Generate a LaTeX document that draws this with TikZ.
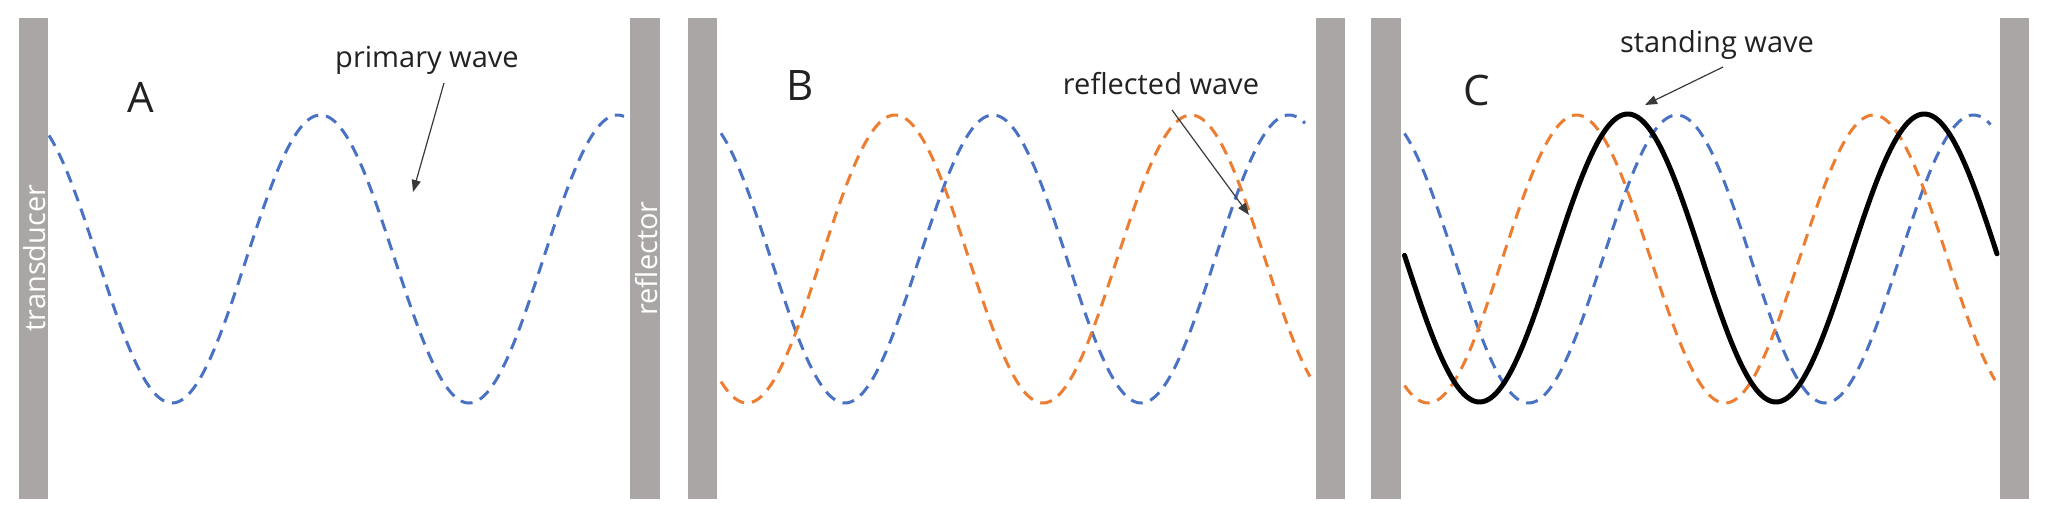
\documentclass[tikz,border=0pt]{standalone}
\usepackage{fontspec}
\setmainfont{Open Sans}
\usetikzlibrary{arrows.meta}
\definecolor{bargray}{HTML}{A9A6A5}
\definecolor{wblue}{HTML}{4A72C4}
\definecolor{worange}{HTML}{ED7D31}
\definecolor{txt}{HTML}{222222}
\definecolor{ptrgray}{HTML}{3A3A3A}
\tikzset{
  bar/.style={fill=bargray, draw=none, minimum width=14.75pt, minimum height=240.4pt, inner sep=0pt},
  bartext/.style={text=white, rotate=90, font=\fontsize{14.5}{17}\selectfont, inner sep=0pt},
  lbl/.style={text=txt, font=\fontsize{14.5}{17}\selectfont, inner sep=0pt, anchor=base},
  letter/.style={text=txt, font=\fontsize{21}{25}\selectfont, inner sep=0pt, anchor=base},
  bluewave/.style={wblue, line width=1.5pt, dash pattern=on 6pt off 4pt},
  orangewave/.style={worange, line width=1.5pt, dash pattern=on 6pt off 4pt},
  standwave/.style={black, line width=2.5pt, line cap=round},
  ptr/.style={ptrgray, line width=0.6pt, -{Triangle[length=6pt,width=4.5pt]}}
}
\begin{document}
\begin{tikzpicture}[x=0.5pt, y=-0.5pt]
\useasboundingbox (0,0) rectangle (2048,509);
\fill[white] (0,0) rectangle (2048,509);

% bars
\node[bar] (barAL) at (33.5,258.7) {};
\node[bar] (barAR) at (645,258.7) {};
\node[bar] (barBL) at (702.3,258.7) {};
\node[bar] (barBR) at (1330.5,258.7) {};
\node[bar] (barCL) at (1386,258.7) {};
\node[bar] (barCR) at (2014.5,258.7) {};
\node[bartext] (transducer) at (34.5,258) {transducer};
\node[bartext] (reflector) at (646.5,258.5) {reflector};

% panel A
\draw[bluewave] plot[domain=49:624, samples=220] (\x, {259+144*cos((\x-172)*1.212121)});
\node[letter] (labA) at (141,112) {A};
\node[lbl] (primary) at (427,67) {primary wave};
\coordinate (pS) at (444,83);
\coordinate (pT) at (413,192);
\draw[ptr] (pS) -- (pT);

% panel B
\draw[bluewave] plot[domain=721:1305, samples=220] (\x, {259+144*cos((\x-845)*1.216216)});
\draw[orangewave] plot[domain=721:1310, samples=220] (\x, {259+144*cos((\x-747)*1.216216)});
\node[letter] (labB) at (800,100) {B};
\node[lbl] (reflected) at (1161,94) {reflected wave};
\coordinate (rS) at (1172,110);
\coordinate (rT) at (1249,215);
\draw[ptr] (rS) -- (rT);

% panel C
\draw[bluewave] plot[domain=1404.5:1990.6, samples=220] (\x, {259+144*cos((\x-1528.6)*1.214165)});
\draw[orangewave] plot[domain=1404.5:1995, samples=220] (\x, {259+144*cos((\x-1428)*1.212121)});
\draw[standwave] plot[domain=1404.5:1997, samples=240] (\x, {258+144*cos((\x-1479.5)*1.214165)});
\node[letter] (labC) at (1477,105) {C};
\node[lbl] (standing) at (1717,52) {standing wave};
\coordinate (sS) at (1723,67);
\coordinate (sT) at (1645,105);
\draw[ptr] (sS) -- (sT);
\end{tikzpicture}
\end{document}
